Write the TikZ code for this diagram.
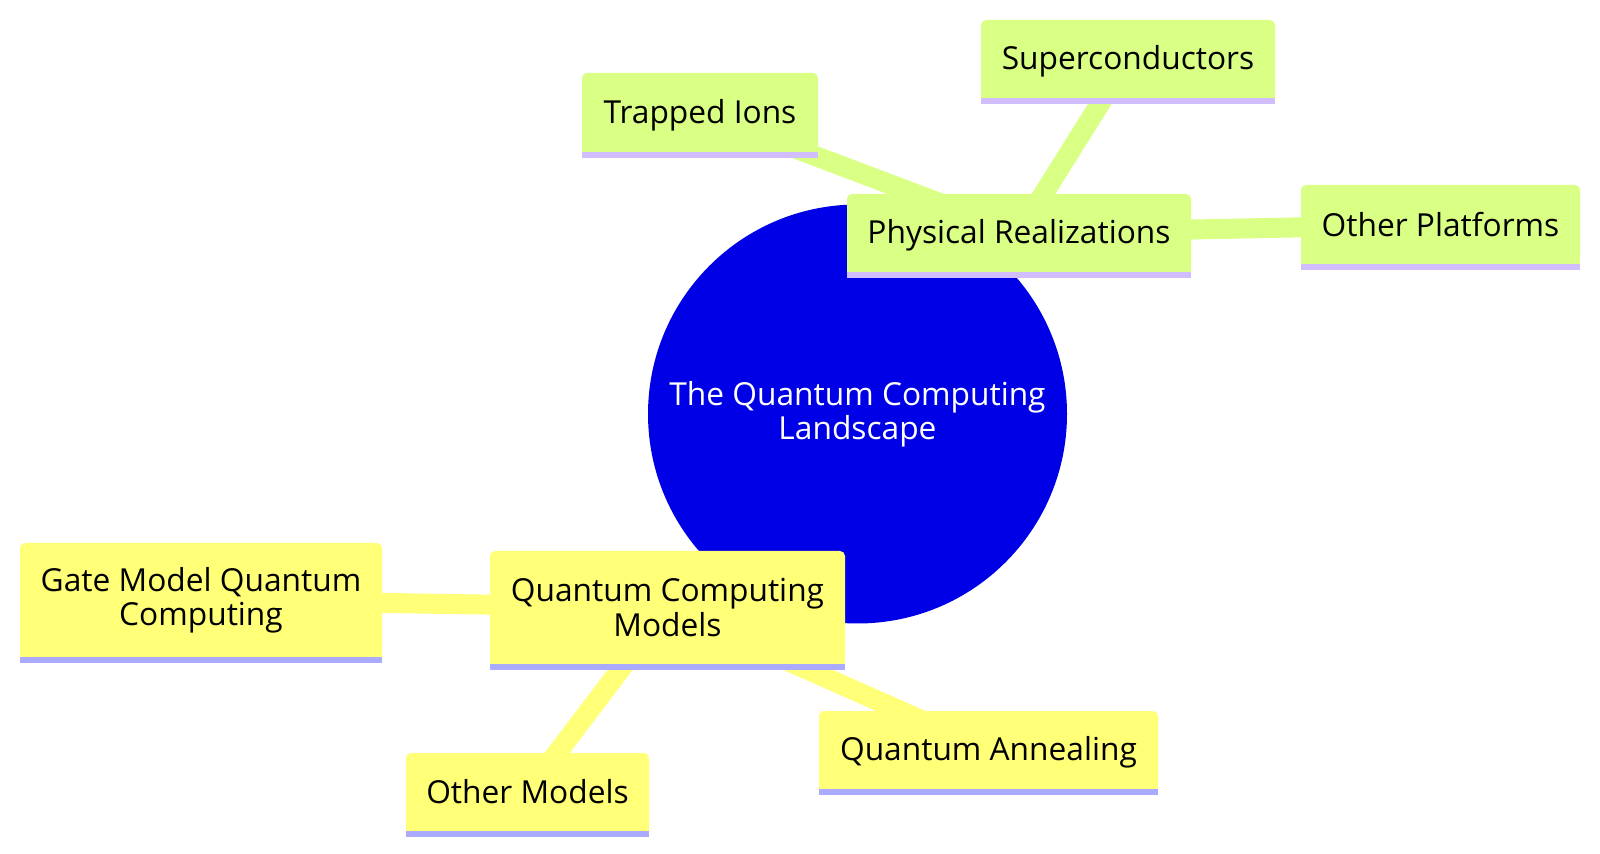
\documentclass[tikz,border=0pt]{standalone}
\usepackage{fontspec}
\setmainfont{Open Sans}
\usetikzlibrary{backgrounds}
\pgfdeclarelayer{bottom}
\pgfsetlayers{bottom,background,main}
\definecolor{rootblue}{RGB}{0,0,230}
\definecolor{limefill}{RGB}{217,255,133}
\definecolor{limeul}{RGB}{210,190,255}
\definecolor{yelfill}{RGB}{255,255,120}
\definecolor{yelul}{RGB}{170,170,255}
\newcommand\lowtxt[1]{\raisebox{-1.2pt}[\height][\depth]{#1}}
\tikzset{
  mm/.style={rectangle, rounded corners=2.5pt, inner sep=0pt, align=center,
    text=black, font=\fontsize{15.85pt}{17.2pt}\selectfont},
  limebox/.style={mm, fill=limefill},
  yelbox/.style={mm, fill=yelfill},
  limeedge/.style={draw=limefill, line width=10pt},
  yeledge/.style={draw=yelfill, line width=10pt},
  rootnode/.style={circle, fill=rootblue, minimum size=209.5pt, inner sep=0pt,
    align=center, text=white, font=\fontsize{15.85pt}{17.2pt}\selectfont},
}
\begin{document}
\begin{tikzpicture}[x=0.5pt,y=-0.5pt]
\begin{pgfonlayer}{bottom}
\fill[white] (0,0) rectangle (1600,854);
\end{pgfonlayer}
\useasboundingbox (0,0) rectangle (1600,854);
\node[rootnode] (root) at (857.5,414) {The Quantum Computing\\Landscape};
% Physical branch
\node[limebox, minimum width=344*0.5pt, minimum height=78*0.5pt] (phys) at (1019,233) {\lowtxt{Physical Realizations}};
\node[limebox, minimum width=236*0.5pt, minimum height=79*0.5pt] (ions) at (700,112.5) {\lowtxt{Trapped Ions}};
\node[limebox, minimum width=294*0.5pt, minimum height=78*0.5pt] (sc) at (1128,59) {\lowtxt{Superconductors}};
\node[limebox, minimum width=279*0.5pt, minimum height=79*0.5pt] (op) at (1440.5,224.5) {Other Platforms};
% Models branch
\node[yelbox, minimum width=355*0.5pt, minimum height=113*0.5pt] (qcm) at (667.5,607.5) {Quantum Computing\\Models};
\node[yelbox, minimum width=362*0.5pt, minimum height=114*0.5pt] (gate) at (201,600) {Gate Model Quantum\\Computing};
\node[yelbox, minimum width=243*0.5pt, minimum height=78*0.5pt] (om) at (527.5,792) {Other Models};
\node[yelbox, minimum width=339*0.5pt, minimum height=78*0.5pt] (qa) at (988.5,750) {\lowtxt{Quantum Annealing}};
% square bottoms and underlines
\foreach \n/\c/\u in {phys/limefill/limeul, ions/limefill/limeul, sc/limefill/limeul, op/limefill/limeul,
  qcm/yelfill/yelul, gate/yelfill/yelul, om/yelfill/yelul, qa/yelfill/yelul}{
  \fill[\c] (\n.south west) rectangle ([yshift=3pt]\n.south east);
  \fill[\u] (\n.south west) rectangle ([yshift=-2.6pt]\n.south east);
}
\begin{scope}[on background layer]
\draw[limeedge] (root.center) -- (phys.center);
\draw[limeedge] (phys.center) -- (ions.center);
\draw[limeedge] (phys.center) -- (sc.center);
\draw[limeedge] (phys.center) -- (op.center);
\draw[yeledge] (root.center) -- (qcm.center);
\draw[yeledge] (qcm.center) -- (gate.center);
\draw[yeledge] (qcm.center) -- (om.center);
\draw[yeledge] (qcm.center) -- (qa.center);
\end{scope}
\end{tikzpicture}
\end{document}
